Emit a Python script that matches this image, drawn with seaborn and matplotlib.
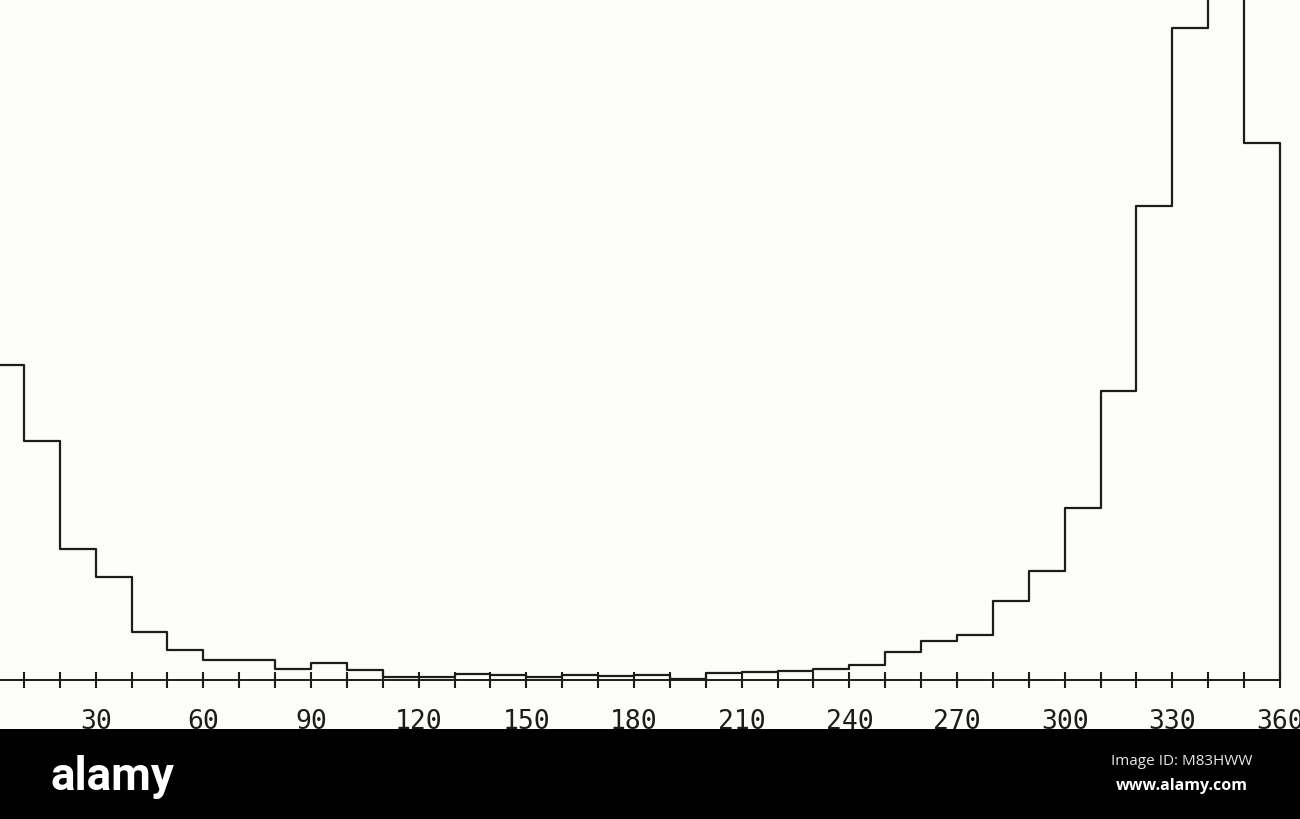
import numpy as np
import pandas as pd
import matplotlib
matplotlib.use("Agg")
import matplotlib.pyplot as plt
import seaborn as sns

# ---- data (relative frequency per 10-degree bin) ----
bin_start = list(range(0, 360, 10))
bin_width = 10
counts = [315.5, 239.5, 131, 103.5, 48.5, 30, 20.5, 20.5, 11.5, 17,
          10, 3, 3, 6, 5, 3, 5, 4, 5.3, 1.3,
          7.3, 8, 9.3, 11.3, 15, 28, 39.5, 45.5, 79, 109,
          172, 289, 474.5, 652.5, 685, 537.5]
tick_values = list(range(10, 361, 10))
tick_labels = [str(t) if t % 30 == 0 else "" for t in tick_values]

watermark_logo = "alamy"
watermark_id = "Image ID: M83HWW"
watermark_url = "www.alamy.com"

# ---- styling ----
sns.set_style("white")
ink = "#1c1c1c"
paper = "#fcfcf8"

df = pd.DataFrame({"angle": [b + bin_width / 2 for b in bin_start], "freq": counts})
x_end = bin_start[-1] + bin_width

fig = plt.figure(figsize=(13, 8.2), dpi=100)
fig.patch.set_facecolor("black")
ax = fig.add_axes([0, 90 / 820, 1, 730 / 820])
ax.set_facecolor(paper)

sns.histplot(data=df, x="angle", weights="freq", binwidth=bin_width,
             binrange=(bin_start[0], x_end), element="step",
             fill=False, color=ink, linewidth=1.6, ax=ax)
# closing edge of the last bin
ax.vlines(x_end, 0, counts[-1], color=ink, linewidth=1.6)

px_per_unit = 1292 / 360
ax.set_xlim(12 / px_per_unit, 360 + 20 / px_per_unit)
ax.set_ylim(-49, 681)

for s in ["left", "right", "top"]:
    ax.spines[s].set_visible(False)
ax.spines["bottom"].set_position(("data", 0))
ax.spines["bottom"].set_bounds(12 / px_per_unit, 360)
ax.spines["bottom"].set_color(ink)
ax.spines["bottom"].set_linewidth(1.4)

ax.set_yticks([])
ax.set_xticks(tick_values)
ax.set_xticklabels(tick_labels, family="DejaVu Sans Mono", fontsize=19, color=ink)
ax.tick_params(axis="x", bottom=True, direction="inout", length=11, width=1.5,
               color=ink, pad=15)
ax.set_xlabel("")
ax.set_ylabel("")

# watermark band
fig.text(50 / 1300, 1 - 790 / 820, watermark_logo, color="white", fontsize=33,
         fontweight="bold", family=["Liberation Sans Narrow", "Roboto", "DejaVu Sans"],
         ha="left", va="baseline")
fig.text(1182 / 1300, 1 - 762 / 820, watermark_id, color="#e8e8e8", fontsize=11,
         family=["Open Sans", "DejaVu Sans"], ha="center", va="center")
fig.text(1182 / 1300, 1 - 786 / 820, watermark_url, color="white", fontsize=11.5,
         fontweight="bold", family=["Open Sans", "DejaVu Sans"], ha="center", va="center")

fig.savefig("out.png", dpi=100, facecolor=fig.get_facecolor())
